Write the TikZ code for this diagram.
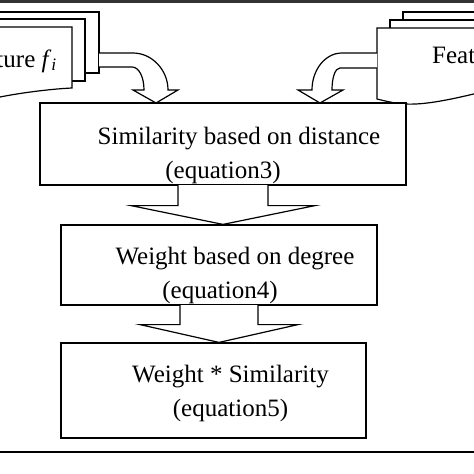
\documentclass[tikz,border=0pt]{standalone}
\usepackage{fontspec}
\setmainfont{Liberation Serif}
\usetikzlibrary{calc}
\tikzset{
  stage/.style={draw, line width=1.2pt, fill=white, inner sep=0pt},
  sheet/.style={draw, line width=1.2pt, fill=white},
  blockarrow/.style={draw, line width=1.2pt, fill=white},
  boxtext/.style={align=center, inner sep=0pt, font=\fontsize{25}{34}\selectfont},
}
\begin{document}
\begin{tikzpicture}[x=1pt,y=-1pt]
  \useasboundingbox (0,0) rectangle (474,474);
  % Frame lines at the top and bottom.
  \fill[black!80] (0,0) rectangle (474,2.5);
  \draw[line width=1.5pt] (0,452) -- (474,452);
  % Draw the left stack of feature sheets.
  \draw[sheet] (-10,12) rectangle (99,73);
  \draw[sheet] (-10,19) rectangle (85,81);
  \draw[sheet] (-10,27) -- (72,27) -- (72,88) .. controls (50,89) and (20,93) .. (0,97) -- (-10,99) -- cycle;
  \node[boxtext, anchor=base east] (fi) at (57,67) {Feature \textit{f}\textsubscript{\textit{i}}};
  % Draw the right stack of feature sheets.
  \draw[sheet] (403,12) rectangle (490,60);
  \draw[sheet] (390,20) rectangle (490,70);
  \draw[sheet] (377,28) -- (490,28) -- (490,90) .. controls (450,100) and (425,105) .. (405,104) .. controls (395,103.5) and (385,101) .. (377,99) -- cycle;
  \node[boxtext, anchor=base west] (fj) at (432,63) {Feature \textit{f}\textsubscript{\textit{j}}};
  % Draw the three stages.
  \node[stage, minimum width=366pt, minimum height=82pt] (sim) at (223,144) {};
  \node[boxtext] (simtext) at (223,155) {\hspace*{32pt}Similarity based on distance\\(equation3)};
  \node[stage, minimum width=316pt, minimum height=80pt] (wgt) at (219,265) {};
  \node[boxtext] (wgttext) at (220,275) {\hspace*{30pt}Weight based on degree\\(equation4)};
  \node[stage, minimum width=305pt, minimum height=95pt] (res) at (213.5,390.5) {};
  \node[boxtext] (restext) at (230.5,393) {Weight * Similarity\\(equation5)};
  % Curved arrows from the sheets into the first stage.
  \coordinate (lsrc) at (99,53);
  \coordinate (ltip) at (156,103);
  \draw[blockarrow] (lsrc) -- (133,53) .. controls (152,53) and (168,70) .. (168,90) -- (178,90) -- (ltip) -- (133,90) -- (144,90) .. controls (144,77) and (139,67) .. (132,67) -- (99,67);
  \coordinate (rsrc) at (377,53);
  \coordinate (rtip) at (320,103);
  \draw[blockarrow] (rsrc) -- (342,53) .. controls (325,53) and (312,70) .. (312,90) -- (298,90) -- (rtip) -- (343,90) -- (332,90) .. controls (332,78) and (335,68) .. (340,68) -- (377,68);
  % Block arrows between the stages.
  \draw[blockarrow] ($(sim.south)+(-45,-0.6)$) -- ++(0,20.6) -- ++(-47,0) -- (sim.south |- wgt.north) -- ($(sim.south)+(92,20)$) -- ++(-47,0) -- ++(0,-20.6);
  \draw[blockarrow] ($(wgt.south)+(-39,-0.6)$) -- ++(0,19.6) -- ++(-40,0) -- (wgt.south |- res.north) -- ($(wgt.south)+(79,19)$) -- ++(-40,0) -- ++(0,-19.6);
\end{tikzpicture}
\end{document}
